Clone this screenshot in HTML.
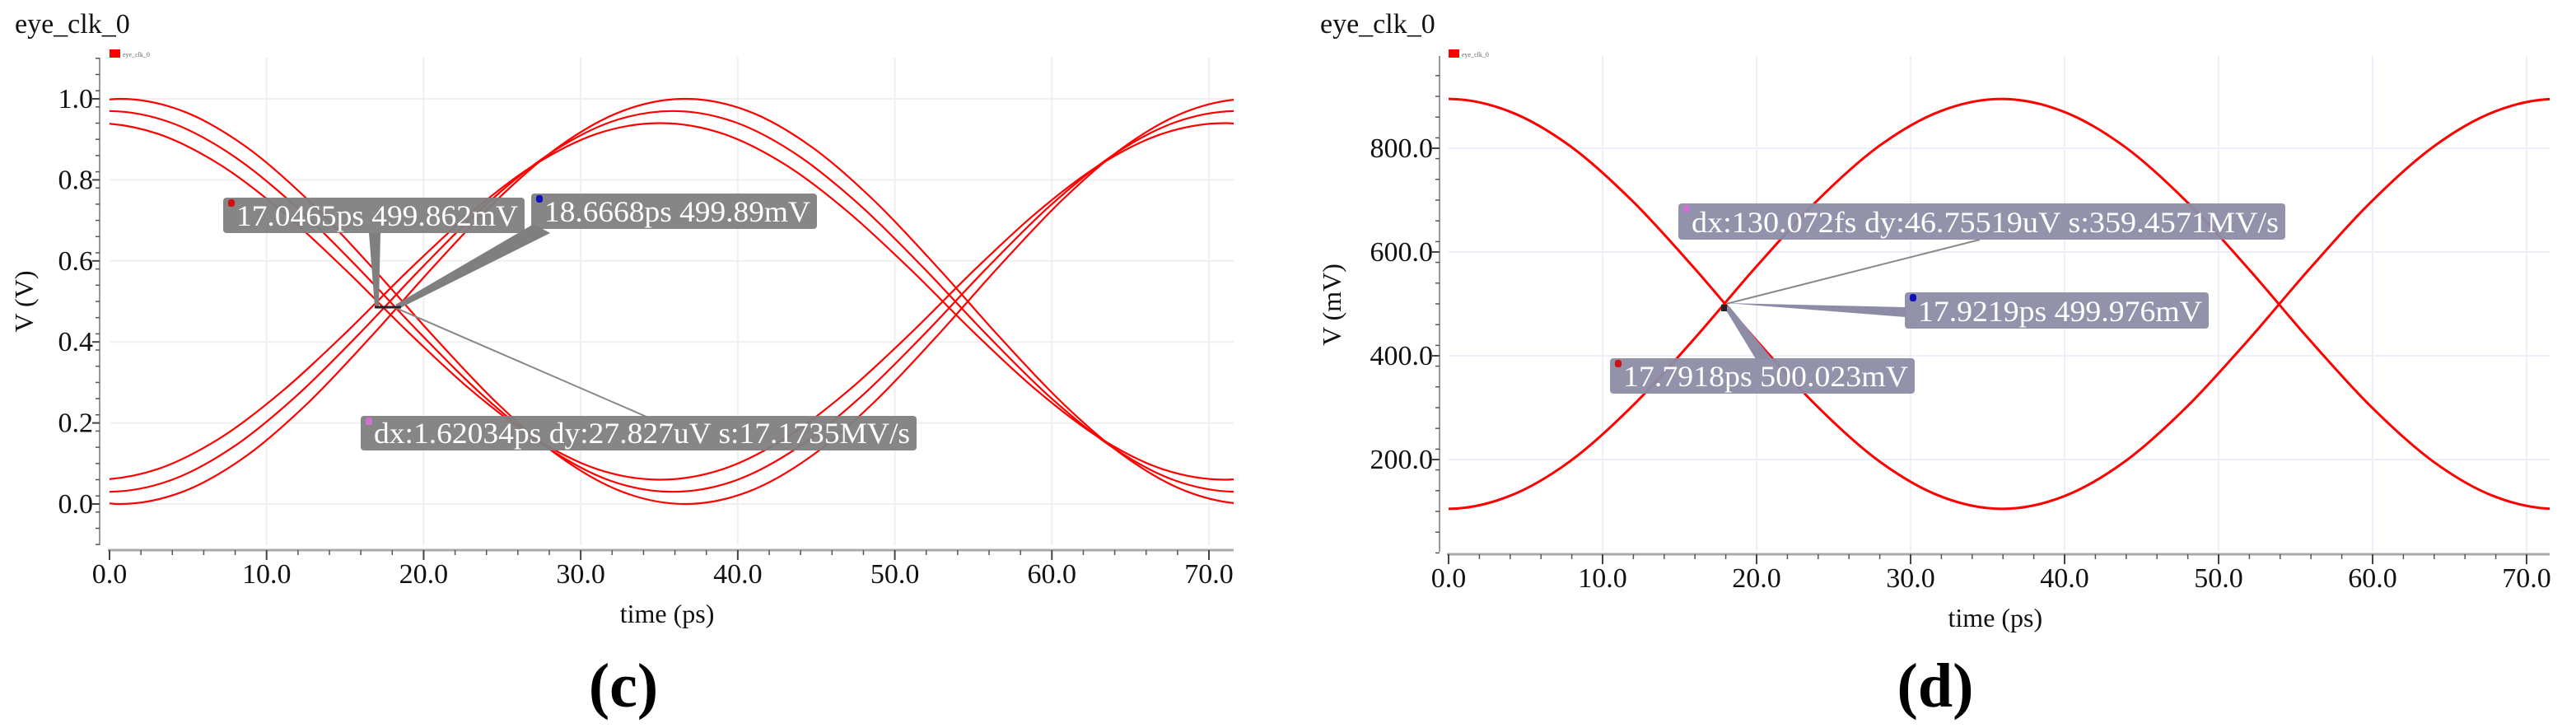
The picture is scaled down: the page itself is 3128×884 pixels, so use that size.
<!DOCTYPE html>
<html><head><meta charset="utf-8"><title>eye_clk_0</title>
<style>
html,body{margin:0;padding:0;background:#fff;width:3128px;height:884px;overflow:hidden}
svg{display:block}
text{font-family:"Liberation Serif",serif}
</style></head>
<body>
<svg id="fig" xmlns="http://www.w3.org/2000/svg" width="3128" height="884" viewBox="0 0 3128 884"></svg>
<script>
// ---- shared time samples (ps) ----
var times = [-4,0,4,8,12,16,20,24,28,32,36,40,44,48,52,56,60,64,68,72,76];
// ---- panel (c) series (V) ----
var cFall1 = [0.970,1.0,0.970,0.883,0.75,0.587,0.413,0.25,0.117,0.030,0.0,0.030,0.117,0.25,0.413,0.587,0.75,0.883,0.970,1.0,0.970];
var cFall2 = [0.942,0.97,0.942,0.860,0.735,0.582,0.418,0.265,0.140,0.058,0.03,0.058,0.140,0.265,0.418,0.582,0.735,0.860,0.942,0.97,0.942];
var cFall3 = [0.914,0.94,0.914,0.837,0.72,0.577,0.423,0.28,0.163,0.086,0.06,0.086,0.163,0.28,0.423,0.577,0.72,0.837,0.914,0.94,0.914];
var cRise1 = [0.030,0.0,0.030,0.117,0.25,0.413,0.587,0.75,0.883,0.970,1.0,0.970,0.883,0.75,0.587,0.413,0.25,0.117,0.030,0.0,0.030];
var cRise2 = [0.058,0.03,0.058,0.140,0.265,0.418,0.582,0.735,0.860,0.942,0.97,0.942,0.860,0.735,0.582,0.418,0.265,0.140,0.058,0.03,0.058];
var cRise3 = [0.086,0.06,0.086,0.163,0.28,0.423,0.577,0.72,0.837,0.914,0.94,0.914,0.837,0.72,0.577,0.423,0.28,0.163,0.086,0.06,0.086];
var cShifts = [0.65,-0.15,-0.95,0.65,-0.15,-0.95];
var cYTicks = [0.0,0.2,0.4,0.6,0.8,1.0];
var cYTickLabels = ["0.0","0.2","0.4","0.6","0.8","1.0"];
// ---- panel (d) series (mV) ----
var dFall = [871,895,871,803,698,569,431,302,197,129,105,129,197,302,431,569,698,803,871,895,871];
var dRise = [129,105,129,197,302,431,569,698,803,871,895,871,803,698,569,431,302,197,129,105,129];
var dShifts = [-0.05,-0.1];
var dYTicks = [200,400,600,800];
var dYTickLabels = ["200.0","400.0","600.0","800.0"];
var xTicks = [0,10,20,30,40,50,60,70];
var xTickLabels = ["0.0","10.0","20.0","30.0","40.0","50.0","60.0","70.0"];

var NS="http://www.w3.org/2000/svg";
var svg=document.getElementById('fig');
function mk(tag,attrs,parent,txt){var e=document.createElementNS(NS,tag);for(var k in attrs)e.setAttribute(k,attrs[k]);if(txt!==undefined)e.textContent=txt;(parent||svg).appendChild(e);return e;}

function makeAxes(p){
  p.x=function(t){return p.x0+(t-p.tmin)*(p.x1-p.x0)/(p.tmax-p.tmin);};
  p.y=function(v){return p.yb-(v-p.vmin)*(p.yb-p.yt)/(p.vmax-p.vmin);};
}
function smoothPath(px,py){
  var d="M"+px[0].toFixed(1)+","+py[0].toFixed(1);
  for(var i=0;i<px.length-1;i++){
    var x0=px[i-1]!==undefined?px[i-1]:px[i],y0=py[i-1]!==undefined?py[i-1]:py[i];
    var x3=px[i+2]!==undefined?px[i+2]:px[i+1],y3=py[i+2]!==undefined?py[i+2]:py[i+1];
    var c1x=px[i]+(px[i+1]-x0)/6,c1y=py[i]+(py[i+1]-y0)/6;
    var c2x=px[i+1]-(x3-px[i])/6,c2y=py[i+1]-(y3-py[i])/6;
    d+=" C"+c1x.toFixed(1)+","+c1y.toFixed(1)+" "+c2x.toFixed(1)+","+c2y.toFixed(1)+" "+px[i+1].toFixed(1)+","+py[i+1].toFixed(1);
  }
  return d;
}
function drawPanel(p){
  var g=mk('g',{});
  
  
  var clipId='clip-'+p.name;
  var cp=mk('clipPath',{id:clipId},g);mk('rect',{x:p.x0,y:p.yt,width:p.xr-p.x0,height:p.yb-p.yt},cp);
  var gg=mk('g',{},g);
  xTicks.forEach(function(t){if(t===0)return;mk('line',{x1:p.x(t),x2:p.x(t),y1:p.yt,y2:p.yb,stroke:p.grid,'stroke-width':2},gg);});
  p.yTicks.forEach(function(v){mk('line',{x1:p.x0,x2:p.xr,y1:p.y(v),y2:p.y(v),stroke:p.grid,'stroke-width':2},gg);});
  var ya=mk('g',{},g);
  mk('line',{x1:p.ax,x2:p.ax,y1:p.yt,y2:p.yb,stroke:'#999','stroke-width':2},ya);
  for(var v=p.vmin;v<=p.vmax+1e-9;v+=p.yMinor){mk('line',{x1:p.ax-5,x2:p.ax,y1:p.y(v),y2:p.y(v),stroke:'#555','stroke-width':1.5},ya);}
  p.yTicks.forEach(function(v,i){
    mk('line',{x1:p.ax-9,x2:p.ax,y1:p.y(v),y2:p.y(v),stroke:'#444','stroke-width':2},ya);
    var t=mk('text',{x:p.ax-8,y:p.y(v)+11,'text-anchor':'end','font-size':34,fill:'#111'},ya,p.yLabels[i]);
    
  });
  var xa=mk('g',{},g);
  mk('line',{x1:p.x0-2,x2:p.xr,y1:p.xaY,y2:p.xaY,stroke:'#aaa','stroke-width':3},xa);
  for(var t=0;t<=p.tmax+1;t+=2){mk('line',{x1:p.x(t),x2:p.x(t),y1:p.xaY,y2:p.xaY+6,stroke:'#555','stroke-width':1.5},xa);}
  xTicks.forEach(function(t,i){
    mk('line',{x1:p.x(t),x2:p.x(t),y1:p.xaY,y2:p.xaY+12,stroke:'#444','stroke-width':2},xa);
    var tx=mk('text',{x:p.x(t),y:p.xaY+40,'text-anchor':'middle','font-size':34,fill:'#111'},xa,xTickLabels[i]);
    
  });
  var xt=mk('text',{x:p.x(35.5),y:p.xaY+88,'text-anchor':'middle','font-size':32,fill:'#111'},g,'time (ps)');
  
  var yt=mk('text',{x:0,y:0,'text-anchor':'middle','font-size':32,fill:'#111',transform:'translate('+p.ytX+','+p.ytY+') rotate(-90)'},g,p.yTitle);
  
  var ti=mk('text',{x:p.titleX,y:40,'font-size':34,fill:'#111'},g,'eye_clk_0');
  
  var lg=mk('g',{},g);
  mk('rect',{x:p.x0,y:60,width:13,height:10,fill:'#ff0000'},lg);
  mk('text',{x:p.x0+16,y:69,'font-size':8,fill:'#666'},lg,'eye_clk_0');
  var sg=mk('g',{'clip-path':'url(#'+clipId+')'},g);
  p.series.forEach(function(s,i){
    var px=times.map(function(t){return p.x(t+p.shifts[i]);});
    var py=s.map(function(v){return p.y(v);});
    var path=mk('path',{d:smoothPath(px,py),fill:'none',stroke:'#ff0000','stroke-width':p.lw},sg);
    
    
  });
  var lab=mk('text',{x:p.labX,y:858,'text-anchor':'middle','font-size':76,'font-weight':'bold',fill:'#000'},g,p.label);
  
  return g;
}
function box(x,y,w,h,txt,fill,mcol,name){
  var g=mk('g',{});
  
  
  mk('rect',{x:x,y:y,width:w,height:h,rx:4,fill:fill,opacity:0.95},g);
  mk('rect',{x:x+6,y:y+2,width:8,height:9,rx:3,fill:mcol},g);
  mk('text',{x:x+16,y:y+h-9,'font-size':36,fill:'#fff',textLength:w-24,lengthAdjust:'spacingAndGlyphs'},g,txt);
  return g;
}

var pc={name:'panel-c',x0:133,x1:1468,xr:1498,tmin:0,tmax:70,yt:70,yb:662,vmin:-0.1,vmax:1.1,ax:121,xaY:668,
  grid:'#efefef',yTicks:cYTicks,yLabels:cYTickLabels,yMinor:0.04,yTitle:'V (V)',ytX:40,ytY:366,titleX:18,
  series:[cFall1,cFall2,cFall3,cRise1,cRise2,cRise3],shifts:cShifts,lw:2.2,label:'(c)',labX:757};
makeAxes(pc);
pc.y=function(v){return 612-v*492;};
drawPanel(pc);

var pd={name:'panel-d',x0:1759,x1:3068,xr:3096,tmin:0,tmax:70,yt:68,yb:670,vmin:20,vmax:975,ax:1748,xaY:673,
  grid:'#eeeefa',yTicks:dYTicks,yLabels:dYTickLabels,yMinor:40,yTitle:'V (mV)',ytX:1628,ytY:370,titleX:1603,
  series:[dFall,dRise],shifts:dShifts,lw:3,label:'(d)',labX:2350};
makeAxes(pd);
pd.y=function(v){return 684-v*0.63;};
drawPanel(pd);

var an=mk('g',{});
mk('polygon',{points:'448,283 462,283 460,372 455,372',fill:'#7f7f7f'},an);
mk('polygon',{points:'648,272 668,283 486,374 480,370',fill:'#7f7f7f'},an);
mk('line',{x1:476,y1:372,x2:785,y2:506,stroke:'#888','stroke-width':2},an);
mk('line',{x1:455,y1:373,x2:487,y2:373,stroke:'#222','stroke-width':3},an);
box(271,240,366,43,'17.0465ps 499.862mV','#7f7f7f','#d01010','marker-a-label');
box(645,235,347,43,'18.6668ps 499.89mV','#7f7f7f','#1010c0','marker-b-label');
box(438,505,675,42,'dx:1.62034ps dy:27.827uV s:17.1735MV/s','#7f7f7f','#d070d0','delta-label-c');

var ad=mk('g',{});
mk('line',{x1:2096,y1:369,x2:2404,y2:291,stroke:'#888','stroke-width':2},ad);
mk('polygon',{points:'2096,368 2314,373 2314,385',fill:'#8c8ca6'},ad);
mk('polygon',{points:'2093,372 2100,372 2152,436 2132,436',fill:'#8c8ca6'},ad);
mk('rect',{x:2090,y:370,width:7,height:8,fill:'#222'},ad);
box(2038,247,737,44,'dx:130.072fs dy:46.75519uV s:359.4571MV/s','#8c8ca6','#d070d0','delta-label-d');
box(2313,355,369,44,'17.9219ps 499.976mV','#8c8ca6','#1010c0','marker-b-label-d');
box(1955,435,370,43,'17.7918ps 500.023mV','#8c8ca6','#d01010','marker-a-label-d');
</script>
</body></html>
